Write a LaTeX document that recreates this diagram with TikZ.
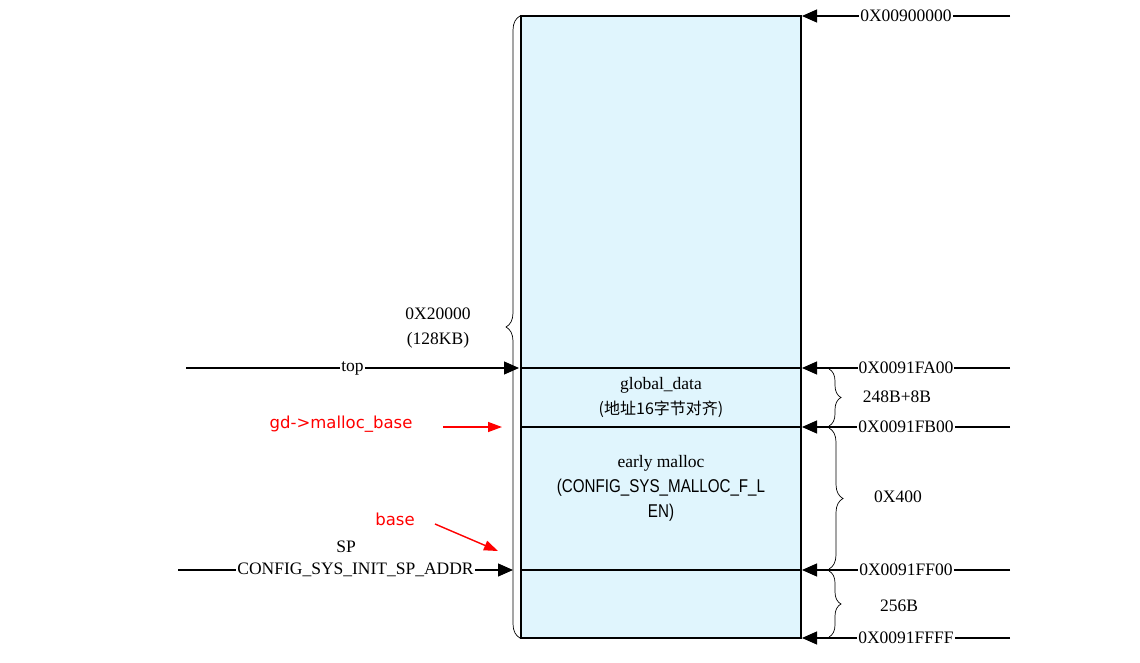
\documentclass[tikz,border=0pt]{standalone}
\usepackage{fontspec}
\setmainfont{Liberation Serif}
\newfontfamily\cjk{Noto Sans CJK SC}
\newfontfamily\rsans{DejaVu Sans}
\newfontfamily\csans{Liberation Sans}[FakeStretch=0.82]
\usetikzlibrary{arrows.meta,decorations.pathreplacing}
\begin{document}
\begin{tikzpicture}[x=1pt,y=-1pt,
  addr/.style={font=\fontsize{17.5}{20}\selectfont, fill=white, inner sep=1pt},
  lbl/.style={font=\fontsize{17.5}{25}\selectfont, align=center},
  blk/.style={-{Triangle[length=15pt,width=13pt]}, line width=1.2pt},
  red/.style={-{Triangle[length=14pt,width=10pt]}, line width=1.4pt, draw=red},
  brc/.style={decorate, decoration={brace, amplitude=14pt}, line width=0.7pt}]
\useasboundingbox (0,0) rectangle (1140,663);
\fill[cyan!12!white] (521,16) rectangle (801,638);
\draw[line width=1.3pt] (521,16) rectangle (801,638);
\foreach \y in {368,427,570} \draw[line width=1.3pt] (521,\y) -- (801,\y);
% right addresses
\foreach \n/\y/\t in {a/16/0X00900000,b/368/0X0091FA00,c/427/0X0091FB00,d/570/0X0091FF00,e/638/0X0091FFFF}{
  \coordinate (r\n) at (1010,\y); \coordinate (p\n) at (802,\y);
  \draw[blk] (r\n) -- node[addr,pos=0.5]{\t} (p\n);}
% left arrows
\coordinate (ts) at (186,368); \coordinate (te) at (519,368);
\draw[blk] (ts) -- node[addr,pos=0.5]{top} (te);
\coordinate (ss) at (178,570); \coordinate (se) at (513,570);
\draw[blk] (ss) -- node[addr,pos=0.53]{CONFIG\_SYS\_INIT\_SP\_ADDR} (se);
\node[lbl] (sp) at (346,547) {SP};
% braces
\coordinate (b1) at (520,638); \coordinate (b2) at (520,16);
\draw[brc] (b1) -- (b2);
\node[lbl] (sz) at (438,328) {0X20000\\(128KB)};
\coordinate (c1) at (829,369); \coordinate (c2) at (829,426);
\draw[brc, decoration={amplitude=12pt}] (c1) -- (c2);
\coordinate (c3) at (829,428); \coordinate (c4) at (829,569);
\draw[brc] (c3) -- (c4);
\coordinate (c5) at (829,571); \coordinate (c6) at (829,637);
\draw[brc, decoration={amplitude=12pt}] (c5) -- (c6);
\node[lbl] (l1) at (897,397) {248B+8B};
\node[lbl] (l2) at (898,497) {0X400};
\node[lbl] (l3) at (899,606) {256B};
% block texts
\node[lbl] (gd) at (661,397) {global\_data\\{\cjk\fontsize{16}{20}\selectfont (地址16字节对齐)}};
\node[lbl] (em) at (661,488) {early malloc\\{\csans\fontsize{18.5}{26}\selectfont (CONFIG\_SYS\_MALLOC\_F\_L}\\{\csans\fontsize{18.5}{26}\selectfont EN)}};
% red annotations
\node[text=red, font=\rsans\fontsize{16.5}{18}\selectfont] (mb) at (341,424) {gd->malloc\_base};
\coordinate (m1) at (443,427); \coordinate (m2) at (502,427);
\draw[red] (m1) -- (m2);
\node[text=red, font=\rsans\fontsize{16.5}{18}\selectfont] (bs) at (395,519) {base};
\coordinate (n1) at (435,524); \coordinate (n2) at (498,551);
\draw[red] (n1) -- (n2);
\end{tikzpicture}
\end{document}
